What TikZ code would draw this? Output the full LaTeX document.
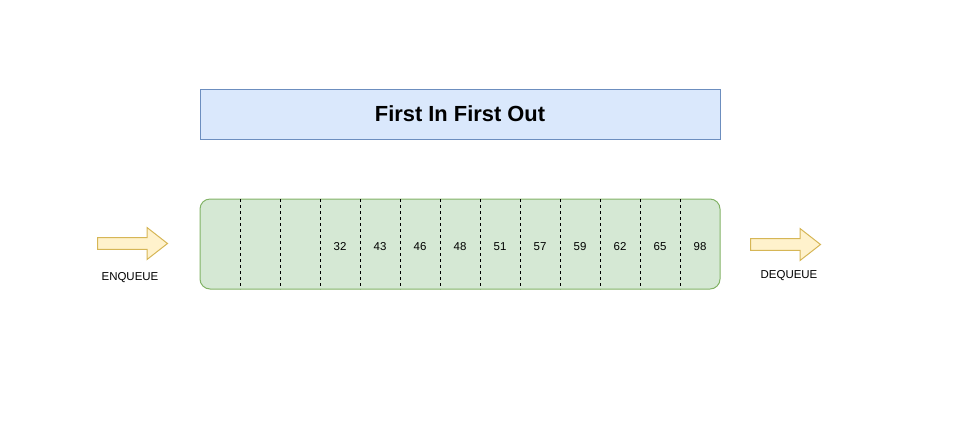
\documentclass[tikz,border=0pt]{standalone}
\usepackage{fontspec}
\setmainfont{Liberation Sans}
\usetikzlibrary{shapes.arrows}
\definecolor{titlefill}{HTML}{DAE8FC}
\definecolor{titleline}{HTML}{6C8EBF}
\definecolor{queuefill}{HTML}{D5E8D4}
\definecolor{queueline}{HTML}{82B366}
\definecolor{arrowfill}{HTML}{FFF2CC}
\definecolor{arrowline}{HTML}{D6B656}
\begin{document}
\begin{tikzpicture}[x=0.75pt,y=-0.75pt,line width=0.75pt]
    \tikzstyle{cellnum}=[inner sep=0pt,font=\fontsize{8.6}{10}\selectfont]
    \tikzstyle{flow}=[single arrow,draw=arrowline,fill=arrowfill,inner xsep=0pt,inner ysep=4.1pt,anchor=tail,
      minimum height=52.5pt,single arrow head extend=7.5pt,single arrow tip angle=76]
    \useasboundingbox (0,0) rectangle (980,437);
    \node[draw=titleline,fill=titlefill,minimum width=390pt,minimum height=37.5pt,inner sep=0pt] (title) at (460,114)
      {\fontsize{16.4}{19}\selectfont\bfseries First In First Out};
    \node[draw=queueline,fill=queuefill,rounded corners=7.5pt,minimum width=390pt,minimum height=67.5pt,inner sep=0pt] (queue) at (460,244) {};
    \foreach \x in {240,280,...,680}
      \draw[dash pattern=on 2.25pt off 2.25pt] (\x,199) -- (\x,289);
    \foreach \v [count=\i] in {32,43,46,48,51,57,59,62,65,98}
      \node[cellnum] (cell\i) at (300+40*\i,246.5) {\v};
    \node[flow] (enqarrow) at (97,243.5) {};
    \node[cellnum] (enqlabel) at (130,277.5) {ENQUEUE};
    \node[flow] (deqarrow) at (750,244.5) {};
    \node[cellnum] (deqlabel) at (789,275.5) {DEQUEUE};
  \end{tikzpicture}
\end{document}
